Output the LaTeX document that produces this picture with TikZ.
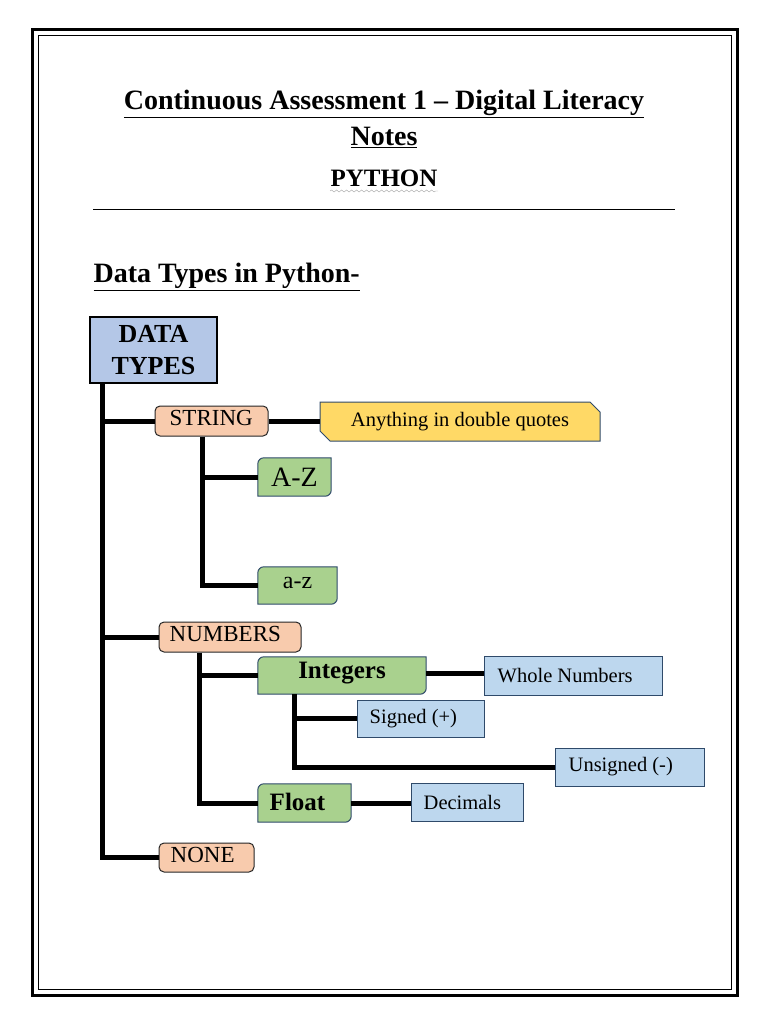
\documentclass[tikz,border=0pt]{standalone}
\usepackage{fontspec}
\setmainfont{Liberation Serif}
\usetikzlibrary{shapes.misc,decorations.pathmorphing}
\definecolor{bluef}{HTML}{BDD7EE}
\definecolor{dtf}{HTML}{B4C7E7}
\definecolor{yelf}{HTML}{FFD966}
\definecolor{grnf}{HTML}{A9D18E}
\definecolor{orgf}{HTML}{F8CBAD}
\definecolor{edge}{HTML}{2F4A6A}
\tikzset{
 base/.style={inner sep=0pt, font=\fontsize{20.5}{23}\selectfont},
 dtbox/.style={base, draw=black, line width=1.2pt, fill=dtf, align=center, font=\bfseries\fontsize{26}{32}\selectfont},
 obox/.style={base, draw=black!85, line width=1pt, fill=orgf, rounded corners=5pt},
 otext/.style={inner sep=0pt, anchor=west, font=\fontsize{23}{25}\selectfont},
 btext/.style={inner sep=0pt, anchor=west, font=\fontsize{20.5}{23}\selectfont},
 cbox/.style={base, draw=edge, line width=1pt, chamfered rectangle, chamfered rectangle xsep=5pt, chamfered rectangle ysep=5pt, chamfered rectangle corners={north east,south west}},
 bbox/.style={cbox, fill=bluef},
 ybox/.style={cbox, fill=yelf},
 gbox/.style={base},
 gshape/.style={draw=edge, line width=1pt, fill=grnf},
 conn/.style={line width=5pt, black},
}
\newcommand{\greenbox}[1]{%
 \filldraw[gshape] (#1.south west) [rounded corners=6pt] -- (#1.north west) [sharp corners] -- (#1.north east) [rounded corners=6pt] -- (#1.south east) [sharp corners] -- cycle;}
\begin{document}
\begin{tikzpicture}[x=1pt,y=-1pt]
\useasboundingbox (0,0) rectangle (768,1024);
\draw[line width=3pt] (32,30) rectangle (737,995);
\draw[line width=1pt] (38,36) rectangle (731,989);
\node (t1) at (384,104) {\bfseries\fontsize{28}{32}\selectfont\underline{Continuous Assessment 1 – Digital Literacy}};
\node (t2) at (384,137) {\bfseries\fontsize{28}{32}\selectfont\underline{Notes}};
\node (t3) at (384,178) {\bfseries\fontsize{25}{29}\selectfont PYTHON};
\draw[gray!70, decorate, decoration={snake, amplitude=1pt, segment length=5pt}] (330,191) -- (438,191);
\draw[line width=0.8pt] (93,209) -- (675,209);
\node[anchor=west] (sec) at (90,277) {\bfseries\fontsize{28}{32}\selectfont\underline{Data Types in Python-}};
% nodes
\node[dtbox, minimum width=127pt, minimum height=66pt] (dt) at (153.5,350) {DATA\\TYPES};
\node[obox, minimum width=113pt, minimum height=30pt] (str) at (211.5,421) {};
\node[ybox, minimum width=280pt, minimum height=39pt] (any) at (460,421.5) {Anything in double quotes};
\node[gbox, minimum width=73pt, minimum height=38pt] (AZ) at (294.5,477) {};
\node[gbox, minimum width=79pt, minimum height=37pt] (az) at (297.5,585.5) {};
\node[obox, minimum width=142pt, minimum height=30pt] (num) at (230,637) {};
\node[gbox, minimum width=168pt, minimum height=37pt] (int) at (342,675.5) {};
\node[bbox, minimum width=178pt, minimum height=39pt] (whole) at (573,675.5) {};
\node[bbox, minimum width=127pt, minimum height=37pt] (sig) at (420.5,718.5) {};
\node[bbox, minimum width=149pt, minimum height=38pt] (uns) at (629.5,767) {};
\node[gbox, minimum width=93pt, minimum height=38pt] (flt) at (304.5,803) {};
\node[bbox, minimum width=112pt, minimum height=38pt] (dec) at (467,802) {};
\node[obox, minimum width=95pt, minimum height=29pt] (none) at (206.5,857.5) {};
\greenbox{AZ}\greenbox{az}\greenbox{int}\greenbox{flt}
\node[base, font=\fontsize{28}{30}\selectfont] at (AZ) {A-Z};
\node[base, font=\fontsize{24}{26}\selectfont] at ([yshift=3pt]az.center) {a-z};
\node[base, font=\bfseries\fontsize{25}{27}\selectfont] at ([yshift=2pt]int.center) {Integers};
\node[base, font=\bfseries\fontsize{25}{27}\selectfont] at ([xshift=-7pt,yshift=1pt]flt.center) {Float};
\node[otext] at ([xshift=15pt,yshift=3pt]str.west) {STRING};
\node[otext] at ([xshift=11pt,yshift=3pt]num.west) {NUMBERS};
\node[otext] at ([xshift=12pt,yshift=3pt]none.west) {NONE};
\node[btext] at ([xshift=14pt]whole.west) {Whole Numbers};
\node[btext] at ([xshift=13pt]sig.west) {Signed (+)};
\node[btext] at ([xshift=14pt]uns.west) {Unsigned (-)};
\node[btext] at ([xshift=13pt]dec.west) {Decimals};
% connectors
\coordinate (tr) at ([xshift=13pt]dt.south west);
\coordinate (sr) at ([xshift=48pt]str.south west);
\coordinate (nr) at ([xshift=41pt]num.south west);
\coordinate (ir) at ([xshift=37pt]int.south west);
\draw[conn] (tr) |- (str.west);
\draw[conn] (tr) |- (num.west);
\draw[conn] (tr) |- (none.west);
\draw[conn] (str.east) -- (str.east -| any.west);
\draw[conn] (sr) |- (AZ.west);
\draw[conn] (sr) |- (az.west);
\draw[conn] (nr) |- (int.west);
\draw[conn] (nr) |- (flt.west);
\draw[conn] (ir) |- (sig.west);
\draw[conn] (ir) |- (uns.west);
\draw[conn] ([yshift=2pt]int.east) -- ([yshift=2pt]int.east -| whole.west);
\draw[conn] (flt.east) -- (flt.east -| dec.west);
\end{tikzpicture}
\end{document}
